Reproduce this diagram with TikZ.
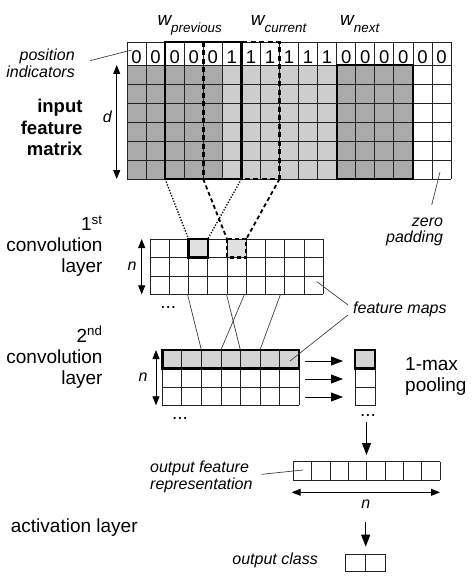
\documentclass[tikz,border=0pt]{standalone}
\usepackage{fontspec}
\setmainfont{Liberation Sans}
\usetikzlibrary{arrows.meta}
\definecolor{darkcell}{RGB}{170,170,170}
\definecolor{lightcell}{RGB}{205,205,205}
\definecolor{hlcell}{RGB}{224,224,224}
\definecolor{rowcell}{RGB}{212,212,212}
\definecolor{gridline}{RGB}{35,35,35}
\newcommand\fBig{\fontsize{19}{21}\selectfont}
\newcommand\fBold{\fontsize{18.5}{21.5}\selectfont\bfseries}
\newcommand\fSm{\fontsize{16}{16.5}\selectfont}
\newcommand\fDig{\fontsize{18.5}{20}\selectfont}
\newcommand\fSub{\fontsize{13.4}{14}\selectfont}
\begin{document}
\begin{tikzpicture}[x=1pt,y=-1pt,
  grid/.style={draw=gridline, line width=0.7pt},
  thickbox/.style={draw=black, line width=2.6pt},
  dashbox/.style={draw=black, line width=2.6pt, dash pattern=on 5pt off 3.5pt},
  lbl/.style={inner sep=0pt},
  leader/.style={draw=black!75, line width=0.7pt},
  dbl/.style={draw=black, line width=0.8pt, {Triangle[length=9pt,width=7pt]}-{Triangle[length=9pt,width=7pt]}},
  arr/.style={draw=black, line width=0.8pt, -{Triangle[length=12pt,width=9pt]}},
  frame/.style={inner sep=0pt, minimum width=#1, anchor=north west},
  dots/.style={inner sep=0pt, font=\fBig, anchor=base}
]
\useasboundingbox (0,0) rectangle (474,588);

% ---------- input feature matrix ----------
\fill[darkcell] (127,65) rectangle (222.3,179);
\fill[lightcell] (222.3,65) rectangle (336.7,179);
\fill[darkcell] (336.7,65) rectangle (412.9,179);
\foreach \i in {0,...,17} \draw[grid] ({127+19.06*\i},42) -- ({127+19.06*\i},179);
\draw[grid] (127,42) -- (451,42);
\foreach \j in {0,...,6} \draw[grid] (127,{65+19*\j}) -- (451,{65+19*\j});
\node[frame=324pt, minimum height=137pt] (inmat) at (127,42) {};
\foreach \v [count=\i from 0] in {0,0,0,0,0,1,1,1,1,1,1,0,0,0,0,0,0}
  \node[lbl, font=\fDig, anchor=base] (pos\i) at ({127+19.06*(\i+0.5)},63.3) {\v};
% windows
\draw[line width=1.2pt] (336.7,65) rectangle (412.9,179);
\draw[line width=2.2pt] (336.7,65) -- (336.7,179);
\draw[thickbox] (165.1,42) rectangle (241.4,179);
\draw[dashbox] (203.2,42) rectangle (279.5,179);
\coordinate (wp-bl) at (165.1,179);
\coordinate (wp-br) at (241.4,179);
\coordinate (wc-bl) at (203.2,179);
\coordinate (wc-br) at (279.5,179);

\node[lbl, font=\fBig\itshape, anchor=base west] (wprev) at (157.3,25.5) {w\raisebox{-6.8pt}{\fSub previous}};
\node[lbl, font=\fBig\itshape, anchor=base west] (wcur) at (250.7,25.5) {w\raisebox{-6.8pt}{\fSub current}};
\node[lbl, font=\fBig\itshape, anchor=base west] (wnext) at (340,25.5) {w\raisebox{-6.8pt}{\fSub next}};

% position indicators
\node[lbl, font=\fSm\itshape, align=right, anchor=base east] (posind) at (75,77.3) {position\\indicators};
\coordinate (posind-a) at (90,60.7);
\coordinate (posind-b) at (131.7,50);
\draw[leader] (posind-a) -- (posind-b);

\node[lbl, font=\fBold, align=right, anchor=base east] (ifm) at (82.7,156) {input\\feature\\matrix};
\coordinate (d-top) at (116.7,65);
\coordinate (d-bot) at (116.7,179);
\draw[dbl] (d-top) -- (d-bot);
\node[lbl, font=\fSm\itshape] (dlab) at (107.3,117) {d};

% zero padding
\node[lbl, font=\fSm\itshape, align=right, anchor=base east] (zp) at (443.3,242.7) {zero\\padding};
\coordinate (zp-a) at (440,172);
\coordinate (zp-b) at (431.7,205);
\draw[leader] (zp-a) -- (zp-b);

% ---------- 1st convolution layer ----------
\fill[hlcell] (188.5,239) rectangle (207.75,257.4);
\fill[hlcell] (227,239) rectangle (246.25,257.4);
\foreach \i in {0,...,9} \draw[grid] ({150+19.25*\i},239) -- ({150+19.25*\i},294.3);
\foreach \j in {0,...,3} \draw[grid] (150,{239+18.43*\j}) -- (323.25,{239+18.43*\j});
\node[frame=173.25pt, minimum height=55.3pt] (conv1) at (150,239) {};
\draw[draw=black, line width=2.4pt] (188.5,239) rectangle (207.75,257.4);
\draw[draw=black, line width=2.2pt, dash pattern=on 4pt off 3pt] (227,239) rectangle (246.25,257.4);
\coordinate (c1-a) at (188.5,239);
\coordinate (c1-b) at (207.75,239);
\coordinate (c1-c) at (227,239);
\coordinate (c1-d) at (246.25,239);
\draw[line width=1.3pt, dash pattern=on 1.3pt off 1.6pt] (wp-bl) -- (c1-a);
\draw[line width=1.3pt, dash pattern=on 1.3pt off 1.6pt] (wp-br) -- (c1-b);
\draw[line width=1.8pt, dash pattern=on 4pt off 3pt] (wc-bl) -- (c1-c);
\draw[line width=1.8pt, dash pattern=on 4pt off 3pt] (wc-br) -- (c1-d);

\node[lbl, font=\fBig, align=right, anchor=base east] (conv1lab) at (102.7,272.7) {1\textsuperscript{st}\\convolution\\layer};
\coordinate (n1-top) at (141.7,239);
\coordinate (n1-bot) at (141.7,294.3);
\draw[dbl] (n1-top) -- (n1-bot);
\node[lbl, font=\fSm\itshape] (n1lab) at (132,266) {n};
\node[dots] (dots1) at (168.3,308) {...};

% ---------- 2nd convolution layer ----------
\fill[rowcell] (162.3,350) rectangle (299,368.43);
\foreach \i in {0,...,7} \draw[grid] ({162.3+19.53*\i},350) -- ({162.3+19.53*\i},405.3);
\foreach \j in {0,...,3} \draw[grid] (162.3,{350+18.43*\j}) -- (299,{350+18.43*\j});
\node[frame=136.7pt, minimum height=55.3pt] (conv2) at (162.3,350) {};
\draw[draw=black, line width=2.4pt] (162.3,350) rectangle (299,368.43);

\coordinate (c1-o1) at (187.5,294.3);
\coordinate (c1-o2) at (226.5,294.3);
\coordinate (c1-o3) at (244.5,294.3);
\coordinate (c1-o4) at (280.5,294.3);
\coordinate (c2-i1) at (201.4,350);
\coordinate (c2-i2) at (240.4,350);
\coordinate (c2-i3) at (220.9,350);
\coordinate (c2-i4) at (259.95,350);
\draw[leader] (c1-o1) -- (c2-i1);
\draw[leader] (c1-o2) -- (c2-i2);
\draw[leader] (c1-o3) -- (c2-i3);
\draw[leader] (c1-o4) -- (c2-i4);

\node[lbl, font=\fBig, align=right, anchor=base east] (conv2lab) at (102.7,384) {2\textsuperscript{nd}\\convolution\\layer};
\coordinate (n2-top) at (156,350);
\coordinate (n2-bot) at (156,405.3);
\draw[dbl] (n2-top) -- (n2-bot);
\node[lbl, font=\fSm\itshape] (n2lab) at (143,377) {n};
\node[dots] (dots2) at (180,419) {...};

% feature maps
\node[lbl, font=\fSm\itshape, anchor=base west] (fm) at (353,313) {feature maps};
\coordinate (fm-a) at (348,305);
\coordinate (fm-b) at (317,281.7);
\coordinate (fm-c) at (348,315);
\coordinate (fm-d) at (290,361);
\draw[leader] (fm-a) -- (fm-b);
\draw[leader] (fm-c) -- (fm-d);

% ---------- pooling ----------
\fill[rowcell] (355,350) rectangle (375,368.43);
\draw[grid] (355,350) rectangle (375,405.3);
\draw[grid] (355,368.43) -- (375,368.43);
\draw[grid] (355,386.86) -- (375,386.86);
\node[frame=20pt, minimum height=55.3pt] (pool) at (355,350) {};
\draw[draw=black, line width=2.4pt] (355,350) rectangle (375,368.43);
\foreach \y [count=\k] in {361,379,397} {
  \coordinate (pa\k) at (305,\y);
  \coordinate (pb\k) at (343,\y);
  \draw[arr] (pa\k) -- (pb\k);
}
\node[lbl, font=\fBig, align=left, anchor=base west] (poollab) at (405,391.7) {1-max\\pooling};
\node[dots] (dots3) at (368,416.5) {...};
\coordinate (pd-a) at (366.5,421.7);
\coordinate (pd-b) at (366.5,455);
\draw[arr] (pd-a) -- (pd-b);

% ---------- output feature representation ----------
\foreach \i in {0,...,8} \draw[grid] ({293.3+18.34*\i},461.7) -- ({293.3+18.34*\i},480);
\draw[grid] (293.3,461.7) -- (440,461.7);
\draw[grid] (293.3,480) -- (440,480);
\node[frame=146.7pt, minimum height=18.3pt] (ofr) at (293.3,461.7) {};
\node[lbl, font=\fSm\itshape, align=left, anchor=base west] (ofrlab) at (150,489.3) {output feature\\representation};
\coordinate (ofr-a) at (261.7,474.3);
\coordinate (ofr-b) at (303,470);
\draw[leader] (ofr-a) -- (ofr-b);
\coordinate (nh-l) at (291.7,492.3);
\coordinate (nh-r) at (440,492.3);
\draw[dbl] (nh-l) -- (nh-r);
\node[lbl, font=\fSm\itshape] (n3lab) at (365.7,504) {n};
\coordinate (od-a) at (365.7,521.7);
\coordinate (od-b) at (365.7,546.7);
\draw[arr] (od-a) -- (od-b);

% ---------- output class ----------
\draw[grid] (345.7,554.3) rectangle (385,571.7);
\draw[grid] (365.35,554.3) -- (365.35,571.7);
\node[frame=39.3pt, minimum height=17.4pt] (oc) at (345.7,554.3) {};
\node[lbl, font=\fSm\itshape, anchor=base east] (oclab) at (318,564) {output class};

\node[lbl, font=\fBig, anchor=base west] (act) at (10.7,532) {activation layer};
\end{tikzpicture}
\end{document}
